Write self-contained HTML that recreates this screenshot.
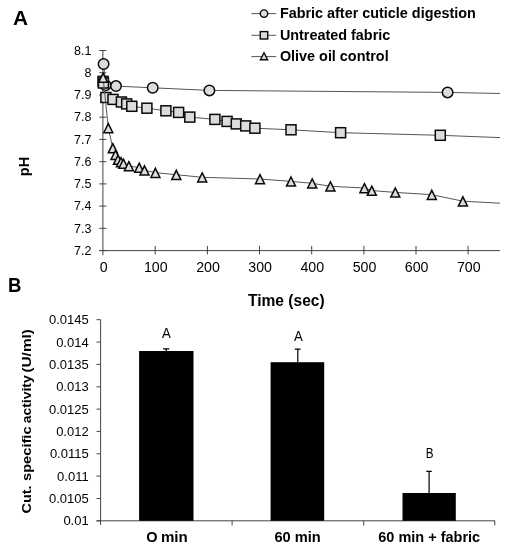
<!DOCTYPE html>
<html><head><meta charset="utf-8"><title>Figure</title>
<style>html,body{margin:0;padding:0;background:#fff;}svg{display:block;}text{font-family:"Liberation Sans",Arial,sans-serif;fill:#000;}</style></head><body>
<svg width="510" height="550" viewBox="0 0 510 550">
<rect width="510" height="550" fill="#fff"/>
<text x="12.9" y="24.8" font-size="20.8" font-weight="bold">A</text>
<text x="7.9" y="292.1" font-size="20.8" font-weight="bold" textLength="13.4" lengthAdjust="spacingAndGlyphs">B</text>
<line x1="251.4" y1="13.6" x2="276.2" y2="13.6" stroke="#555" stroke-width="1"/>
<circle cx="264.0" cy="13.6" r="3.75" fill="#dcdcdc" stroke="#0a0a0a" stroke-width="1.4"/>
<text x="279.9" y="18.4" font-size="14.4" font-weight="bold">Fabric after cuticle digestion</text>
<line x1="251.4" y1="35.3" x2="276.2" y2="35.3" stroke="#555" stroke-width="1"/>
<rect x="260.3" y="31.599999999999998" width="7.4" height="7.4" fill="#dcdcdc" stroke="#0a0a0a" stroke-width="1.4"/>
<text x="279.9" y="39.6" font-size="14.4" font-weight="bold">Untreated fabric</text>
<line x1="251.4" y1="56.6" x2="276.2" y2="56.6" stroke="#555" stroke-width="1"/>
<polygon points="264.0,52.7 267.6,59.7 260.4,59.7" fill="#dcdcdc" stroke="#0a0a0a" stroke-width="1.4"/>
<text x="279.9" y="61.4" font-size="14.4" font-weight="bold">Olive oil control</text>
<g stroke="#444" stroke-width="1" fill="none">
<line x1="102.9" y1="50" x2="102.9" y2="255.2"/>
<line x1="99.3" y1="250.6" x2="500" y2="250.6"/>
<line x1="99.3" y1="50.5" x2="106.4" y2="50.5"/>
<line x1="99.3" y1="72.7" x2="106.4" y2="72.7"/>
<line x1="99.3" y1="95.0" x2="106.4" y2="95.0"/>
<line x1="99.3" y1="117.2" x2="106.4" y2="117.2"/>
<line x1="99.3" y1="139.4" x2="106.4" y2="139.4"/>
<line x1="99.3" y1="161.7" x2="106.4" y2="161.7"/>
<line x1="99.3" y1="183.9" x2="106.4" y2="183.9"/>
<line x1="99.3" y1="206.1" x2="106.4" y2="206.1"/>
<line x1="99.3" y1="228.3" x2="106.4" y2="228.3"/>
<line x1="99.3" y1="250.6" x2="106.4" y2="250.6"/>
<line x1="155.2" y1="245.9" x2="155.2" y2="254.4"/>
<line x1="207.4" y1="245.9" x2="207.4" y2="254.4"/>
<line x1="259.5" y1="245.9" x2="259.5" y2="254.4"/>
<line x1="311.7" y1="245.9" x2="311.7" y2="254.4"/>
<line x1="363.9" y1="245.9" x2="363.9" y2="254.4"/>
<line x1="416.0" y1="245.9" x2="416.0" y2="254.4"/>
<line x1="468.1" y1="245.9" x2="468.1" y2="254.4"/>
</g>
<text x="91.4" y="54.7" font-size="12.5" text-anchor="end">8.1</text>
<text x="91.4" y="76.9" font-size="12.5" text-anchor="end">8</text>
<text x="91.4" y="99.2" font-size="12.5" text-anchor="end">7.9</text>
<text x="91.4" y="121.4" font-size="12.5" text-anchor="end">7.8</text>
<text x="91.4" y="143.6" font-size="12.5" text-anchor="end">7.7</text>
<text x="91.4" y="165.8" font-size="12.5" text-anchor="end">7.6</text>
<text x="91.4" y="188.1" font-size="12.5" text-anchor="end">7.5</text>
<text x="91.4" y="210.3" font-size="12.5" text-anchor="end">7.4</text>
<text x="91.4" y="232.5" font-size="12.5" text-anchor="end">7.3</text>
<text x="91.4" y="254.8" font-size="12.5" text-anchor="end">7.2</text>
<text x="103.7" y="272.3" font-size="14.2" text-anchor="middle">0</text>
<text x="155.8" y="272.3" font-size="14.2" text-anchor="middle">100</text>
<text x="208.0" y="272.3" font-size="14.2" text-anchor="middle">200</text>
<text x="260.1" y="272.3" font-size="14.2" text-anchor="middle">300</text>
<text x="312.3" y="272.3" font-size="14.2" text-anchor="middle">400</text>
<text x="364.5" y="272.3" font-size="14.2" text-anchor="middle">500</text>
<text x="416.6" y="272.3" font-size="14.2" text-anchor="middle">600</text>
<text x="468.8" y="272.3" font-size="14.2" text-anchor="middle">700</text>
<text transform="translate(29.1,166.5) rotate(-90)" font-size="14.6" font-weight="bold" text-anchor="middle">pH</text>
<text x="248.0" y="305.6" font-size="16.3" font-weight="bold" textLength="76.6" lengthAdjust="spacingAndGlyphs">Time (sec)</text>
<polyline points="103.6,64.0 105.6,85.2 116.0,86.1 152.7,87.8 209.4,90.4 447.6,92.4 500.0,93.5" stroke="#555" stroke-width="1" fill="none" stroke-linejoin="round"/>
<g fill="#dcdcdc" stroke="#0a0a0a" stroke-width="1.5">
<circle cx="103.6" cy="64.0" r="5.25"/>
<circle cx="105.6" cy="85.2" r="5.25"/>
<circle cx="116.0" cy="86.1" r="5.25"/>
<circle cx="152.7" cy="87.8" r="5.25"/>
<circle cx="209.4" cy="90.4" r="5.25"/>
<circle cx="447.6" cy="92.4" r="5.25"/>
</g>
<polyline points="103.1,81.4 103.4,83.0 105.9,97.5 113.0,99.4 121.4,102.0 126.7,103.9 131.8,106.3 146.9,108.2 165.9,110.8 178.6,112.4 189.8,117.1 214.9,119.4 227.1,121.4 236.3,123.9 245.7,125.9 254.9,128.2 291.0,129.8 340.6,132.7 440.3,135.3 500.0,137.6" stroke="#555" stroke-width="1" fill="none" stroke-linejoin="round"/>
<g fill="#dcdcdc" stroke="#0a0a0a" stroke-width="1.5">
<rect x="98.1" y="76.4" width="10" height="10"/>
<rect x="98.4" y="78.0" width="10" height="10"/>
<rect x="100.9" y="92.5" width="10" height="10"/>
<rect x="108.0" y="94.4" width="10" height="10"/>
<rect x="116.4" y="97.0" width="10" height="10"/>
<rect x="121.7" y="98.9" width="10" height="10"/>
<rect x="126.8" y="101.3" width="10" height="10"/>
<rect x="141.9" y="103.2" width="10" height="10"/>
<rect x="160.9" y="105.8" width="10" height="10"/>
<rect x="173.6" y="107.4" width="10" height="10"/>
<rect x="184.8" y="112.1" width="10" height="10"/>
<rect x="209.9" y="114.4" width="10" height="10"/>
<rect x="222.1" y="116.4" width="10" height="10"/>
<rect x="231.3" y="118.9" width="10" height="10"/>
<rect x="240.7" y="120.9" width="10" height="10"/>
<rect x="249.9" y="123.2" width="10" height="10"/>
<rect x="286.0" y="124.8" width="10" height="10"/>
<rect x="335.6" y="127.7" width="10" height="10"/>
<rect x="435.3" y="130.3" width="10" height="10"/>
</g>
<polyline points="103.1,77.6 108.3,128.0 112.8,148.1 115.5,154.8 118.0,159.6 121.0,162.0 123.4,163.5 128.9,166.0 139.2,167.6 144.5,170.2 155.4,172.7 176.3,174.7 202.2,177.3 260.0,179.0 291.0,181.4 312.2,183.3 330.4,186.3 364.4,188.0 371.8,190.6 395.3,192.4 431.8,194.7 462.9,201.2 500.0,203.2" stroke="#555" stroke-width="1" fill="none" stroke-linejoin="round"/>
<g fill="#dcdcdc" stroke="#0a0a0a" stroke-width="1.5">
<polygon points="103.1,73.2 107.6,82.3 98.6,82.3"/>
<polygon points="108.3,123.6 112.8,132.7 103.8,132.7"/>
<polygon points="112.8,143.7 117.3,152.8 108.3,152.8"/>
<polygon points="115.5,150.4 120.0,159.5 111.0,159.5"/>
<polygon points="118.0,155.2 122.5,164.3 113.5,164.3"/>
<polygon points="121.0,157.6 125.5,166.7 116.5,166.7"/>
<polygon points="123.4,159.1 127.9,168.2 118.9,168.2"/>
<polygon points="128.9,161.6 133.4,170.7 124.4,170.7"/>
<polygon points="139.2,163.2 143.7,172.3 134.7,172.3"/>
<polygon points="144.5,165.8 149.0,174.9 140.0,174.9"/>
<polygon points="155.4,168.3 159.9,177.4 150.9,177.4"/>
<polygon points="176.3,170.3 180.8,179.4 171.8,179.4"/>
<polygon points="202.2,172.9 206.7,182.0 197.7,182.0"/>
<polygon points="260.0,174.6 264.5,183.7 255.5,183.7"/>
<polygon points="291.0,177.0 295.5,186.1 286.5,186.1"/>
<polygon points="312.2,178.9 316.7,188.0 307.7,188.0"/>
<polygon points="330.4,181.9 334.9,191.0 325.9,191.0"/>
<polygon points="364.4,183.6 368.9,192.7 359.9,192.7"/>
<polygon points="371.8,186.2 376.3,195.3 367.3,195.3"/>
<polygon points="395.3,188.0 399.8,197.1 390.8,197.1"/>
<polygon points="431.8,190.3 436.3,199.4 427.3,199.4"/>
<polygon points="462.9,196.8 467.4,205.9 458.4,205.9"/>
</g>
<g stroke="#444" stroke-width="1" fill="none">
<line x1="100.6" y1="319.7" x2="100.6" y2="525"/>
<line x1="96.5" y1="520.8" x2="495" y2="520.8"/>
<line x1="96.5" y1="319.7" x2="100.6" y2="319.7"/>
<line x1="96.5" y1="342.1" x2="100.6" y2="342.1"/>
<line x1="96.5" y1="364.4" x2="100.6" y2="364.4"/>
<line x1="96.5" y1="386.8" x2="100.6" y2="386.8"/>
<line x1="96.5" y1="409.1" x2="100.6" y2="409.1"/>
<line x1="96.5" y1="431.4" x2="100.6" y2="431.4"/>
<line x1="96.5" y1="453.8" x2="100.6" y2="453.8"/>
<line x1="96.5" y1="476.1" x2="100.6" y2="476.1"/>
<line x1="96.5" y1="498.5" x2="100.6" y2="498.5"/>
<line x1="96.5" y1="520.9" x2="100.6" y2="520.9"/>
<line x1="232.1" y1="520.8" x2="232.1" y2="525.5"/>
<line x1="363.7" y1="520.8" x2="363.7" y2="525.5"/>
<line x1="494.8" y1="520.8" x2="494.8" y2="525.5"/>
</g>
<text x="88.7" y="324.2" font-size="13" text-anchor="end">0.0145</text>
<text x="88.7" y="346.6" font-size="13" text-anchor="end">0.014</text>
<text x="88.7" y="368.9" font-size="13" text-anchor="end">0.0135</text>
<text x="88.7" y="391.2" font-size="13" text-anchor="end">0.013</text>
<text x="88.7" y="413.6" font-size="13" text-anchor="end">0.0125</text>
<text x="88.7" y="435.9" font-size="13" text-anchor="end">0.012</text>
<text x="88.7" y="458.3" font-size="13" text-anchor="end">0.0115</text>
<text x="88.7" y="480.6" font-size="13" text-anchor="end">0.011</text>
<text x="88.7" y="503.0" font-size="13" text-anchor="end">0.0105</text>
<text x="88.7" y="525.4" font-size="13" text-anchor="end">0.01</text>
<g fill="#000">
<rect x="139.1" y="351" width="54.4" height="169.8"/>
<rect x="270.6" y="362.2" width="53.6" height="158.6"/>
<rect x="402.5" y="493" width="53.3" height="27.8"/>
</g>
<g stroke="#000" stroke-width="1.2" fill="none">
<path d="M166.2 351.1V348.8M163 348.8H169.3"/>
<path d="M297.8 362.3V349.2M294.8 349.2H300.6"/>
<path d="M429.1 493V471.4M426.3 471.4H431.8"/>
</g>
<text x="166.45" y="338.2" font-size="14" text-anchor="middle" textLength="8.8" lengthAdjust="spacingAndGlyphs">A</text>
<text x="298.3" y="341.4" font-size="14" text-anchor="middle" textLength="8.8" lengthAdjust="spacingAndGlyphs">A</text>
<text x="429.6" y="457.5" font-size="14" text-anchor="middle" textLength="7.8" lengthAdjust="spacingAndGlyphs">B</text>
<text x="146.2" y="542.1" font-size="13.8" font-weight="bold" textLength="11.3" lengthAdjust="spacingAndGlyphs">O</text>
<text x="160.9" y="542.1" font-size="13.8" font-weight="bold" textLength="26.8" lengthAdjust="spacingAndGlyphs">min</text>
<text x="274.4" y="542.3" font-size="14.2" font-weight="bold" textLength="46.4" lengthAdjust="spacingAndGlyphs">60 min</text>
<text x="378.3" y="542.3" font-size="14.2" font-weight="bold" textLength="101.8" lengthAdjust="spacingAndGlyphs">60 min + fabric</text>
<g transform="translate(30.9,512) rotate(-90)" font-size="13.2" font-weight="bold">
<text x="-1.6" y="0" textLength="28.2" lengthAdjust="spacingAndGlyphs">Cut.</text>
<text x="31" y="0" textLength="54.6" lengthAdjust="spacingAndGlyphs">specific</text>
<text x="88.8" y="0" textLength="47.8" lengthAdjust="spacingAndGlyphs">activity</text>
<text x="139.4" y="0" textLength="43.6" lengthAdjust="spacingAndGlyphs">(U/ml)</text>
</g>
</svg></body></html>
